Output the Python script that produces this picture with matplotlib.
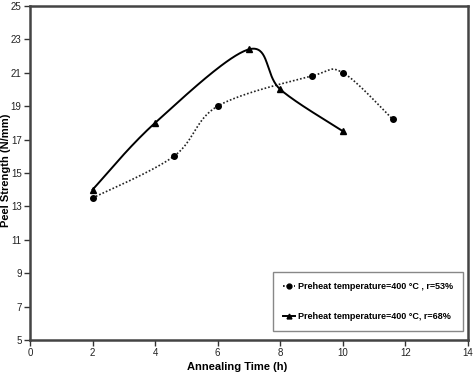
import numpy as np
import matplotlib
matplotlib.use("Agg")
import matplotlib.pyplot as plt
from matplotlib.lines import Line2D

x1 = [2, 4.6, 6, 9, 10, 11.6]
y1 = [13.5, 16, 19, 20.8, 21, 18.2]
x2 = [2, 4, 7, 8, 10]
y2 = [14, 18, 22.4, 20, 17.5]
label1 = "Preheat temperature=400 \u00b0C , r=53%"
label2 = "Preheat temperature=400 \u00b0C, r=68%"
xticks = list(range(0, 15, 2))
yticks = list(range(5, 26, 2))

def smooth(xs, ys, n=40):
    P = np.column_stack([xs, ys]).astype(float)
    out = []
    for i in range(len(P) - 1):
        p0 = P[i - 1] if i > 0 else P[i]
        p1 = P[i]
        p2 = P[i + 1]
        p3 = P[i + 2] if i + 2 < len(P) else P[i + 1]
        c1 = p1 + (p2 - p0) / 6
        c2 = p2 - (p3 - p1) / 6
        t = np.linspace(0, 1, n)[:, None]
        seg = ((1 - t) ** 3) * p1 + 3 * ((1 - t) ** 2) * t * c1 + 3 * (1 - t) * t ** 2 * c2 + t ** 3 * p2
        out.append(seg if i == 0 else seg[1:])
    s = np.vstack(out)
    return s[:, 0], s[:, 1]

plt.rcParams['font.family'] = ['Liberation Sans Narrow', 'Liberation Sans', 'DejaVu Sans']

fig = plt.figure(figsize=(4.74, 3.75), dpi=100)
ax = fig.add_axes([0.0633, 0.0933, 0.924, 0.891])

sx, sy = smooth(x1, y1)
ax.plot(sx, sy, color='#222222', lw=1.2, ls=(0, (1, 1.2)))
ax.plot(x1, y1, 'o', color='black', ms=4)
sx, sy = smooth(x2, y2)
ax.plot(sx, sy, color='black', lw=1.4)
ax.plot(x2, y2, '^', color='black', ms=4)

ax.set_xlim(0, 14)
ax.set_ylim(5, 25)
ax.set_xticks(xticks)
ax.set_yticks(yticks)
ax.tick_params(labelsize=7, direction='out', length=4, width=1, pad=2,
               colors='#333333', labelcolor='#222222')
for s in ax.spines.values():
    s.set_color('#444444')
    s.set_linewidth(1.8)

fig.text(0.5, 0.022, "Annealing Time (h)", ha='center', va='center',
         fontsize=8, fontweight='bold')
fig.text(0.013, 0.545, "Peel Strength (N/mm)", ha='center', va='center',
         rotation=90, fontsize=8, fontweight='bold')

h1 = Line2D([], [], color='black', lw=1.2, ls=(0, (1, 1.2)), marker='o', ms=3.5)
h2 = Line2D([], [], color='black', lw=1.4, marker='^', ms=3.5)
leg = ax.legend([h1, h2], [label1, label2], loc='lower right', bbox_to_anchor=(0.995, 0.02),
                fancybox=False, edgecolor='#888888', framealpha=1,
                prop={'weight': 'bold', 'size': 6.5}, handlelength=1.4, handletextpad=0.3,
                labelspacing=2.3, borderpad=1.1, borderaxespad=0.3)
leg.get_frame().set_linewidth(1.0)

fig.savefig("out.png", dpi=100)
